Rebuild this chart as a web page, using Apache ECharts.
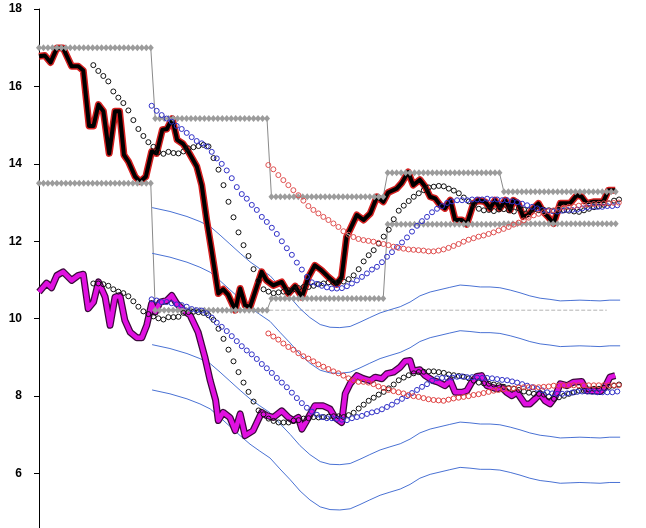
<!DOCTYPE html>
<html><head><meta charset="utf-8">
<script src="https://cdn.jsdelivr.net/npm/echarts/dist/echarts.min.js"></script>
<style>html,body{margin:0;padding:0;background:#fff;overflow:hidden}#c{width:646px;height:551px}</style>
</head><body><div id="c"></div>
<script>
// ---- step bands (26 points per level) ----
const upperStepLevels = [17.0, 15.17, 13.15, 13.77, 13.28];
const lowerStepLevels = [13.5, 10.22, 10.52, 12.44, 12.45];
const pointsPerStep = 26;
const refLevel = 10.22;
const refRange = [26, 127];

// ---- thick price lines [t, value] ----
const upperPrice = [[0,16.78],[1.3,16.80],[2.6,16.62],[4.0,16.99],[5.4,16.99],[7.3,16.52],[8.8,16.52],[9.9,16.41],[11.2,14.98],[12.2,14.98],[13.3,15.53],[14.4,15.36],[15.7,14.27],[17.0,15.36],[18.0,15.36],[19.0,14.23],[20.0,14.06],[21.5,13.67],[22.6,13.54],[23.9,13.67],[25.2,14.32],[26.3,14.27],[27.6,14.88],[28.6,14.90],[29.8,15.17],[30.9,14.62],[32.2,14.52],[33.4,14.32],[35.3,13.93],[36.4,13.45],[37.5,12.55],[38.6,11.77],[40.1,10.65],[41.2,10.76],[42.3,10.62],[43.9,10.22],[45.0,10.78],[46.1,10.35],[47.2,10.30],[48.7,10.82],[49.8,11.21],[50.9,10.99],[52.4,10.86],[54.3,10.95],[55.8,10.65],[57.3,10.84],[58.8,10.56],[60.3,11.08],[61.7,11.38],[63.2,11.25],[64.7,11.08],[66.6,10.89],[67.7,11.08],[68.8,12.11],[71.1,12.68],[72.6,12.55],[74.1,12.72],[75.6,13.15],[77.0,13.02],[78.1,13.26],[80.0,13.36],[81.1,13.50],[82.6,13.79],[83.7,13.45],[85.2,13.59],[86.4,13.41],[87.5,13.15],[88.6,13.11],[89.7,12.94],[90.8,12.85],[92.0,13.06],[93.1,12.55],[94.6,12.55],[95.7,12.44],[97.2,12.98],[98.3,13.06],[99.8,13.02],[100.9,12.85],[102.0,13.06],[103.1,12.85],[104.3,13.06],[105.4,12.81],[106.1,13.06],[107.2,12.98],[108.3,12.63],[109.5,12.68],[110.6,12.85],[111.7,12.98],[112.8,12.76],[113.9,12.63],[115.1,12.46],[116.6,12.98],[117.7,12.98],[118.8,12.98],[120.3,13.19],[121.4,13.15],[122.5,12.98],[124.0,13.02],[126.2,13.02],[127.4,13.32],[128.9,13.32]];
const lowerPrice = [[0,10.69],[1.7,10.92],[2.8,10.80],[4.0,11.12],[5.4,11.21],[7.3,10.99],[8.8,11.12],[9.9,11.15],[11.0,10.26],[12.2,10.43],[13.3,10.95],[14.8,10.56],[15.9,9.83],[17.0,10.56],[18.1,10.60],[19.2,9.96],[20.4,9.65],[21.9,9.51],[23.0,9.51],[24.1,9.83],[25.2,10.39],[26.0,10.17],[27.1,10.43],[28.6,10.47],[29.7,10.60],[30.8,10.39],[32.3,10.22],[33.8,10.09],[35.6,9.65],[37.1,9.01],[38.3,8.40],[39.5,7.90],[40.1,7.37],[41.2,7.58],[42.7,7.45],[43.9,7.11],[45.0,7.54],[46.1,6.98],[47.9,7.11],[49.8,7.58],[50.9,7.50],[52.4,7.45],[54.3,7.62],[55.8,7.45],[56.9,7.37],[58.0,7.45],[58.8,7.15],[59.9,7.37],[61.7,7.75],[63.6,7.75],[65.1,7.67],[66.2,7.45],[67.7,7.32],[68.5,8.06],[69.6,8.32],[71.1,8.53],[72.6,8.45],[74.1,8.40],[75.2,8.49],[76.7,8.45],[77.8,8.58],[79.3,8.62],[80.8,8.75],[81.9,8.90],[83.0,8.92],[83.7,8.65],[85.2,8.68],[86.4,8.53],[87.5,8.45],[88.2,8.40],[89.3,8.36],[90.8,8.27],[92.0,8.40],[93.1,8.10],[94.6,8.10],[95.7,8.14],[96.8,8.36],[97.9,8.51],[99.0,8.53],[100.2,8.27],[101.3,8.23],[102.4,8.19],[103.5,8.23],[104.6,8.10],[105.8,8.01],[106.9,8.10],[108.7,7.80],[109.8,7.80],[111.0,7.93],[112.1,8.06],[113.2,7.88],[114.3,7.80],[115.4,7.97],[116.6,8.32],[118.1,8.27],[119.5,8.36],[121.4,8.38],[122.5,8.14],[124.0,8.14],[125.5,8.12],[126.6,8.23],[127.7,8.49],[128.9,8.53]];

// ---- dotted averages (evenly spaced in t) ----
const dotStep = 1.12;
const blackStart = 12.15, blueStart = 25.2, redStart = 51.3;
const upperBlackDots = [16.55,16.40,16.27,16.13,15.87,15.71,15.57,15.38,15.13,14.90,14.72,14.56,14.44,14.30,14.26,14.31,14.28,14.27,14.32,14.40,14.43,14.46,14.49,14.45,14.15,13.85,13.45,13.02,12.62,12.23,11.90,11.62,11.28,10.98,10.76,10.70,10.66,10.68,10.70,10.73,10.76,10.79,10.82,10.82,10.85,10.89,10.91,10.94,10.93,10.96,10.96,11.02,11.12,11.28,11.48,11.64,11.77,11.94,12.12,12.30,12.57,12.79,12.92,13.04,13.15,13.24,13.32,13.39,13.41,13.43,13.42,13.36,13.31,13.24,13.13,13.03,12.94,12.84,12.80,12.81,12.78,12.82,12.83,12.80,12.77,12.85,12.82,12.80,12.82,12.80,12.81,12.80,12.78,12.79,12.80,12.79,12.77,12.76,12.80,12.84,12.88,12.90,12.94,12.98,13.05,13.08];
const upperBlueDots = [15.50,15.37,15.26,15.17,15.09,14.98,14.90,14.80,14.69,14.59,14.53,14.45,14.31,14.14,14.00,13.83,13.63,13.40,13.22,13.10,12.94,12.81,12.63,12.50,12.35,12.19,12.00,11.82,11.65,11.45,11.27,11.08,10.94,10.90,10.85,10.81,10.78,10.78,10.79,10.84,10.91,10.99,11.08,11.17,11.27,11.34,11.46,11.60,11.72,11.85,11.97,12.10,12.25,12.40,12.52,12.63,12.75,12.84,12.91,12.99,13.03,13.06,13.06,13.06,13.08,13.08,13.08,13.10,13.08,13.08,13.06,13.06,13.03,13.01,12.97,12.93,12.89,12.85,12.81,12.79,12.78,12.77,12.79,12.81,12.81,12.82,12.85,12.88,12.89,12.89,12.89,12.91,12.91,12.93];
const upperRedDots = [13.97,13.86,13.71,13.58,13.45,13.32,13.19,13.05,12.91,12.81,12.72,12.63,12.55,12.46,12.37,12.26,12.17,12.11,12.06,12.03,12.01,11.99,11.96,11.93,11.90,11.86,11.83,11.81,11.79,11.78,11.77,11.76,11.74,11.74,11.76,11.79,11.83,11.88,11.93,11.99,12.04,12.08,12.12,12.15,12.19,12.23,12.28,12.32,12.37,12.43,12.48,12.54,12.61,12.67,12.71,12.75,12.78,12.80,12.84,12.87,12.89,12.90,12.92,12.94,12.95,12.96,12.97,12.98,12.98,12.99,13.00];
const lowerBlackDots = [10.91,10.91,10.89,10.85,10.76,10.70,10.66,10.58,10.45,10.31,10.19,10.12,10.06,10.01,9.98,10.04,10.04,10.05,10.15,10.17,10.18,10.17,10.15,10.09,9.97,9.74,9.48,9.20,8.90,8.62,8.35,8.11,7.86,7.63,7.53,7.42,7.36,7.32,7.32,7.32,7.37,7.38,7.42,7.43,7.46,7.45,7.46,7.47,7.48,7.48,7.46,7.51,7.57,7.68,7.78,7.88,7.96,8.04,8.11,8.20,8.30,8.41,8.48,8.54,8.59,8.62,8.63,8.64,8.64,8.62,8.60,8.56,8.54,8.52,8.50,8.46,8.40,8.35,8.33,8.32,8.30,8.28,8.24,8.21,8.19,8.16,8.12,8.09,8.06,8.06,8.04,7.99,7.93,7.97,8.01,8.06,8.10,8.14,8.14,8.17,8.19,8.19,8.21,8.24,8.27,8.30];
const lowerBlueDots = [10.50,10.47,10.43,10.43,10.40,10.37,10.35,10.31,10.25,10.22,10.21,10.14,10.03,9.90,9.79,9.68,9.55,9.42,9.29,9.18,9.08,8.96,8.83,8.72,8.60,8.47,8.35,8.23,8.09,7.95,7.82,7.70,7.60,7.52,7.46,7.43,7.43,7.41,7.39,7.38,7.43,7.46,7.49,7.54,7.58,7.61,7.66,7.72,7.78,7.86,7.93,8.00,8.08,8.16,8.24,8.31,8.40,8.46,8.47,8.47,8.48,8.50,8.51,8.49,8.49,8.48,8.47,8.47,8.46,8.44,8.42,8.41,8.38,8.35,8.31,8.27,8.23,8.19,8.15,8.10,8.07,8.06,8.06,8.07,8.09,8.11,8.12,8.12,8.11,8.10,8.10,8.10,8.10,8.12];
const lowerRedDots = [9.62,9.54,9.46,9.36,9.27,9.20,9.11,9.03,8.97,8.90,8.82,8.76,8.70,8.64,8.59,8.53,8.46,8.41,8.37,8.37,8.35,8.31,8.25,8.21,8.16,8.13,8.10,8.07,8.03,8.00,7.98,7.95,7.92,7.90,7.89,7.88,7.91,7.94,7.96,7.98,8.00,8.03,8.05,8.08,8.11,8.14,8.16,8.18,8.19,8.20,8.22,8.23,8.23,8.23,8.23,8.24,8.25,8.27,8.27,8.28,8.28,8.28,8.28,8.28,8.28,8.28,8.28,8.28,8.28,8.28,8.28];

// ---- thin blue envelope lines ----
const bandT = [25.3,29.3,33.1,36.0,38.3,40.5,42.7,45.0,47.2,49.4,51.7,53.9,56.2,58.4,60.6,62.9,65.1,67.3,69.6,71.8,74.0,76.3,78.5,80.8,83.0,85.2,87.5,89.7,91.9,94.2,96.4,98.7,100.9,103.1,105.4,107.6,109.8,112.1,114.3,116.6,118.8,121.0,123.3,125.5,127.7,130.0];
const band1 = [12.87,12.77,12.64,12.51,12.38,12.16,11.93,11.69,11.47,11.29,11.11,10.83,10.55,10.26,10.03,9.85,9.78,9.77,9.80,9.91,10.03,10.15,10.23,10.31,10.43,10.59,10.69,10.75,10.81,10.87,10.85,10.82,10.82,10.80,10.74,10.67,10.59,10.53,10.50,10.46,10.47,10.48,10.47,10.46,10.48,10.48];
const band2 = [11.69,11.59,11.46,11.33,11.20,10.98,10.75,10.51,10.29,10.11,9.93,9.65,9.37,9.08,8.85,8.67,8.60,8.59,8.62,8.73,8.85,8.97,9.05,9.13,9.25,9.41,9.51,9.57,9.63,9.69,9.67,9.64,9.64,9.62,9.56,9.49,9.41,9.35,9.32,9.28,9.29,9.30,9.29,9.28,9.30,9.30];
const band3 = [9.33,9.23,9.10,8.97,8.84,8.62,8.39,8.15,7.93,7.75,7.57,7.29,7.01,6.72,6.49,6.31,6.24,6.23,6.26,6.37,6.49,6.61,6.69,6.77,6.89,7.05,7.15,7.21,7.27,7.33,7.31,7.28,7.28,7.26,7.20,7.13,7.05,6.99,6.96,6.92,6.93,6.94,6.93,6.92,6.94,6.94];
const band4 = [8.16,8.06,7.93,7.80,7.67,7.45,7.22,6.98,6.76,6.58,6.40,6.12,5.84,5.55,5.32,5.14,5.07,5.06,5.09,5.20,5.32,5.44,5.52,5.60,5.72,5.88,5.98,6.04,6.10,6.16,6.14,6.11,6.11,6.09,6.03,5.96,5.88,5.82,5.79,5.75,5.76,5.77,5.76,5.75,5.77,5.77];

// ---- builders ----
function stepPts(levels){const o=[];levels.forEach((v,k)=>{for(let i=0;i<pointsPerStep;i++)o.push([k*pointsPerStep+i,v]);});return o;}
function dotPts(start,vals){return vals.map((v,i)=>[+(start+i*dotStep).toFixed(3),v]);}
function bandPts(vals){return vals.map((v,i)=>[bandT[i],v]);}

const base = {type:'line',silent:true,animation:false};
function plain(data,color,width,extra){return Object.assign({},base,{data,showSymbol:false,symbol:'none',lineStyle:Object.assign({color,width},extra||{})});}
function dots(data,color,lineColor){return Object.assign({},base,{data,symbol:'circle',symbolSize:5,showSymbol:true,
  itemStyle:{color:'rgba(255,255,255,0)',borderColor:color,borderWidth:1},
  lineStyle:lineColor?{color:lineColor,width:1}:{opacity:0}});}
function steps(data){return Object.assign({},base,{data,symbol:'diamond',symbolSize:[6,7],showSymbol:true,
  itemStyle:{color:'#9c9c9c',borderWidth:0},lineStyle:{color:'#8a8a8a',width:1}});}

const chart = echarts.init(document.getElementById('c'),null,{renderer:'canvas'});
chart.setOption({
  backgroundColor:'#fff',
  animation:false,
  grid:{left:39,top:9,right:3.5,bottom:0,containLabel:false},
  xAxis:{type:'value',min:0,max:135,show:false},
  yAxis:{type:'value',min:4,max:18,interval:2,
    axisLine:{show:true,lineStyle:{color:'#000',width:1}},
    axisTick:{show:true,inside:false,length:5,lineStyle:{color:'#000'}},
    splitLine:{show:false},
    axisLabel:{color:'#000',fontFamily:'Liberation Sans, Arial, sans-serif',fontWeight:'bold',fontSize:12,margin:17,
      formatter:v=>v<5?'':String(v)}},
  series:[
    plain([[refRange[0],refLevel],[refRange[1],refLevel]],'#b4b4b4',1,{type:'dashed'}),
    steps(stepPts(upperStepLevels)),
    steps(stepPts(lowerStepLevels)),
    plain(bandPts(band1),'#4a72d4',1),
    plain(bandPts(band2),'#4a72d4',1),
    plain(bandPts(band3),'#4a72d4',1),
    plain(bandPts(band4),'#4a72d4',1),
    plain(upperPrice,'#d42020',7,{join:'round'}),
    plain(upperPrice,'#000',4,{join:'round'}),
    plain(lowerPrice,'#3a0a3a',7,{join:'round'}),
    plain(lowerPrice,'#e010e0',4.5,{join:'round'}),
    dots(dotPts(blackStart,upperBlackDots),'#111'),
    dots(dotPts(blueStart,upperBlueDots),'#3030c8'),
    dots(dotPts(redStart,upperRedDots),'#e05050','#ffffff'),
    dots(dotPts(blackStart,lowerBlackDots),'#111'),
    dots(dotPts(blueStart,lowerBlueDots),'#3030c8'),
    dots(dotPts(redStart,lowerRedDots),'#e04040')
  ]
});
</script></body></html>
